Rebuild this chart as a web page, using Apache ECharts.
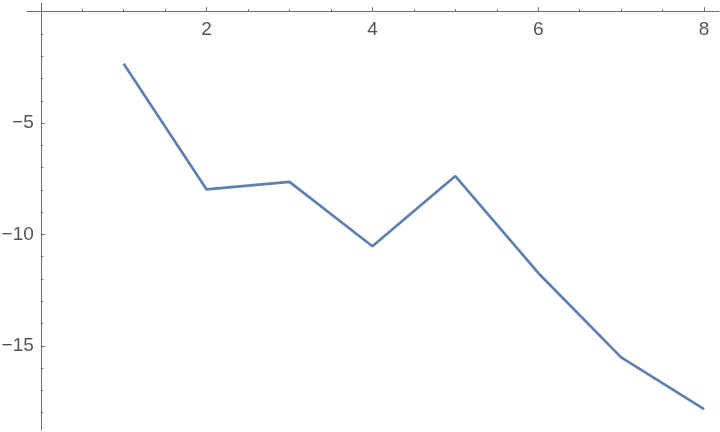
<!DOCTYPE html>
<html><head><meta charset="utf-8">
<script src="https://cdn.jsdelivr.net/npm/echarts@6/dist/echarts.min.js"></script>
<style>html,body{margin:0;padding:0;background:#fff}#c{width:720px;height:432px}</style>
</head><body><div id="c"></div>
<script>
const xValues = [1, 2, 3, 4, 5, 6, 7, 8];
const yValues = [-2.34, -7.98, -7.64, -10.53, -7.38, -11.73, -15.52, -17.84];
const xMajorTicks = [2, 4, 6, 8];
const xMinorTicks = [0.5, 1, 1.5, 2.5, 3, 3.5, 4.5, 5, 5.5, 6.5, 7, 7.5];
const yMajorTicks = [-5, -10, -15];
const yMinorTicks = [-1, -2, -3, -4, -6, -7, -8, -9, -11, -12, -13, -14, -16, -17, -18];
const xRange = [-0.166, 8.18];
const yRange = [-18.78, 0.39];

const axisColor = '#6e6e6e';
const labelColor = '#555555';
const fontFamily = 'Liberation Sans, Arial, sans-serif';
const fmt = v => String(v).replace('-', '\u2212');

// layout of the main grid (pixels)
const G = {left: 27, right: 1, top: 3, bottom: 2};
const W = 720, H = 432;
const pxPerX = (W - G.left - G.right) / (xRange[1] - xRange[0]);
const pxPerY = (H - G.top - G.bottom) / (yRange[1] - yRange[0]);
// label grid starts where the axes cross (x = 0, y = 0)
const G2 = {left: G.left - xRange[0] * pxPerX, right: G.right, top: G.top + yRange[1] * pxPerY, bottom: G.bottom};

const chart = echarts.init(document.getElementById('c'), null, {renderer: 'canvas'});
chart.setOption({
  animation: false,
  grid: [
    Object.assign({containLabel: false, outerBoundsMode: 'none'}, G),
    Object.assign({containLabel: false, outerBoundsMode: 'none'}, G2)
  ],
  xAxis: [{
    gridIndex: 0, type: 'value', position: 'bottom', min: xRange[0], max: xRange[1],
    axisLine: {show: true, onZero: true, lineStyle: {color: axisColor, width: 1}},
    axisTick: {show: true, inside: true, length: 4.5, customValues: xMajorTicks, lineStyle: {color: axisColor}},
    axisLabel: {show: false},
    splitLine: {show: false}
  }, {
    gridIndex: 0, type: 'value', position: 'top', min: xRange[0], max: xRange[1],
    axisLine: {show: false, onZero: true},
    axisTick: {show: true, inside: false, length: 2.5, customValues: xMinorTicks, lineStyle: {color: axisColor}},
    axisLabel: {show: false},
    splitLine: {show: false}
  }, {
    gridIndex: 1, type: 'value', position: 'top', min: 0, max: xRange[1],
    axisLine: {show: false, onZero: false},
    axisTick: {show: false},
    axisLabel: {show: true, inside: true, margin: 9, customValues: xMajorTicks, formatter: fmt, color: labelColor, fontSize: 19, fontFamily: fontFamily},
    splitLine: {show: false}
  }],
  yAxis: [{
    gridIndex: 0, type: 'value', position: 'left', min: yRange[0], max: yRange[1],
    axisLine: {show: true, onZero: true, lineStyle: {color: axisColor, width: 1}},
    axisTick: {show: true, inside: true, length: 4, customValues: yMajorTicks, lineStyle: {color: axisColor}},
    axisLabel: {show: false},
    splitLine: {show: false}
  }, {
    gridIndex: 0, type: 'value', position: 'right', min: yRange[0], max: yRange[1],
    axisLine: {show: false, onZero: true},
    axisTick: {show: true, inside: false, length: 2.5, customValues: yMinorTicks, lineStyle: {color: axisColor}},
    axisLabel: {show: false},
    splitLine: {show: false}
  }, {
    gridIndex: 1, type: 'value', position: 'left', min: yRange[0], max: 0,
    axisLine: {show: false, onZero: false},
    axisTick: {show: false},
    axisLabel: {show: true, margin: 7, customValues: yMajorTicks, formatter: fmt, color: labelColor, fontSize: 19, fontFamily: fontFamily},
    splitLine: {show: false}
  }],
  series: [{
    type: 'line', xAxisIndex: 0, yAxisIndex: 0,
    data: xValues.map((x, i) => [x, yValues[i]]),
    showSymbol: false, symbol: 'none',
    lineStyle: {color: '#5E81B5', width: 2.7},
    itemStyle: {color: '#5E81B5'}
  }]
});
</script></body></html>
